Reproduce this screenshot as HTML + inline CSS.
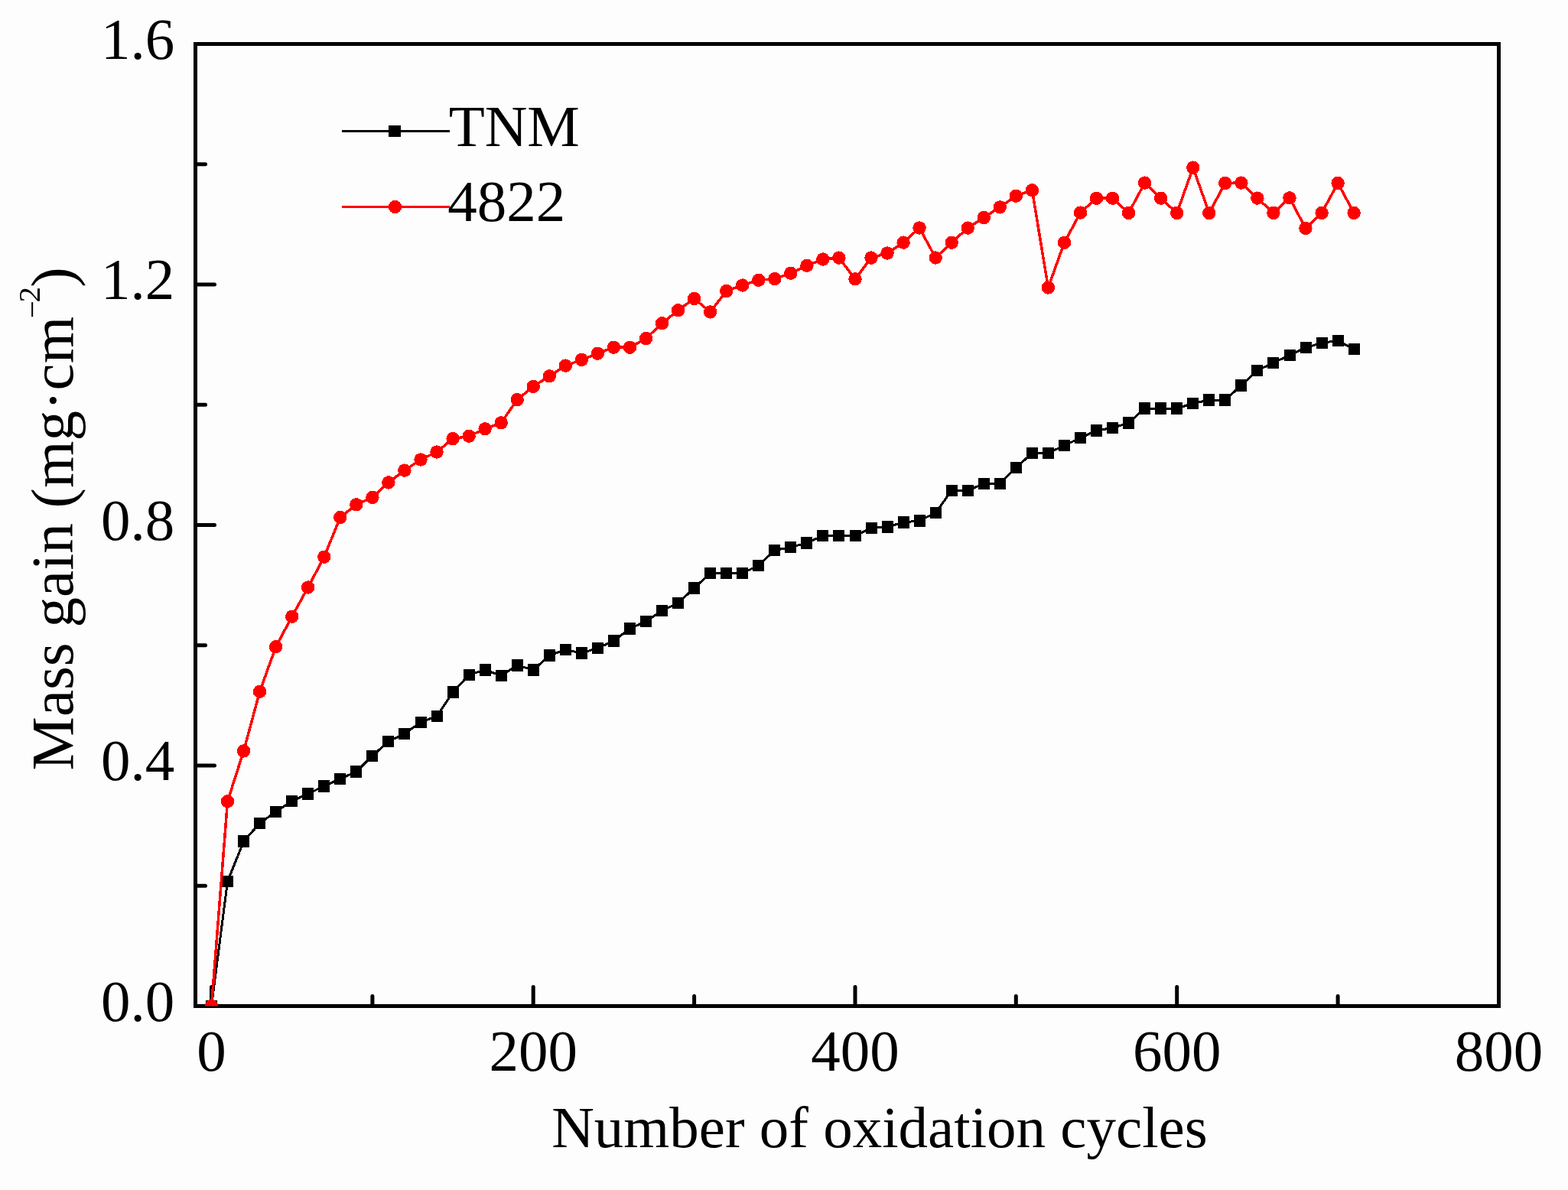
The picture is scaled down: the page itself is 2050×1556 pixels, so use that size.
<!DOCTYPE html>
<html><head><meta charset="utf-8"><title>Mass gain vs oxidation cycles</title>
<style>
html,body{margin:0;padding:0;background:#fdfdfd;}
svg{display:block;}
text{font-family:"Liberation Serif","Times New Roman",serif;fill:#000;}
</style></head><body>
<svg width="2050" height="1556" viewBox="0 0 2050 1556">
<rect x="0" y="0" width="2050" height="1556" fill="#fdfdfd"/>
<defs><clipPath id="pc"><rect x="255.5" y="57.5" width="1704.0" height="1258.0"/></clipPath></defs>
<path d="M255.5 1158.2H268.5 M255.5 1001H280.5 M255.5 843.8H268.5 M255.5 686.5H280.5 M255.5 529.2H268.5 M255.5 372H280.5 M255.5 214.8H268.5 M276.5 1315.5V1290.5 M486.9 1315.5V1302.5 M697.2 1315.5V1290.5 M907.6 1315.5V1302.5 M1118 1315.5V1290.5 M1328.3 1315.5V1302.5 M1538.7 1315.5V1290.5 M1749.1 1315.5V1302.5" stroke="#000" stroke-width="5" stroke-linecap="round" fill="none"/>
<rect x="255.5" y="57.5" width="1704.0" height="1258.0" fill="none" stroke="#000" stroke-width="5"/>
<g font-size="77" text-anchor="end">
<text x="228.3" y="1334.5">0.0</text>
<text x="228.3" y="1020">0.4</text>
<text x="228.3" y="705.5">0.8</text>
<text x="228.3" y="391">1.2</text>
<text x="228.3" y="76.5">1.6</text>
</g>
<g font-size="77" text-anchor="middle">
<text x="276.5" y="1400">0</text>
<text x="697.2" y="1400">200</text>
<text x="1118" y="1400">400</text>
<text x="1538.7" y="1400">600</text>
<text x="1959.5" y="1400">800</text>
</g>
<text x="1150" y="1500" font-size="77" text-anchor="middle">Number of oxidation cycles</text>
<text transform="translate(95 1007.5) rotate(-90)" font-size="79.2">Mass gain (mg&#183;cm<tspan font-size="41" dx="-2.6" dy="-38.8">&#8722;</tspan><tspan font-size="41" dx="-2.4" dy="-4.4">2</tspan><tspan dx="-0.7" dy="43.2">)</tspan></text>
<g clip-path="url(#pc)" shape-rendering="crispEdges">
<polyline points="276.5,1315.5 297.5,1152.5 318.6,1099.9 339.6,1076.5 360.6,1061.4 381.7,1047.4 402.7,1037.9 423.8,1027.9 444.8,1018.4 465.8,1009 486.9,988.4 507.9,969.4 528.9,959.5 550,944.4 571,936.5 592.1,905.1 613.1,882.5 634.1,875.9 655.2,883.5 676.2,869.9 697.2,876.1 718.3,857 739.3,849.5 760.4,854 781.4,847.4 802.4,838 823.5,821.8 844.5,812.5 865.5,798.4 886.6,788.5 907.6,769 928.6,749.4 949.7,749.4 970.7,749.4 991.8,739.4 1012.8,719.5 1033.8,715.5 1054.9,709.9 1075.9,700.4 1096.9,700.4 1118,700.4 1139,690.4 1160.1,689 1181.1,683 1202.1,680.9 1223.2,670.5 1244.2,641.4 1265.2,641.4 1286.3,632.5 1307.3,632.5 1328.3,611.6 1349.4,592.4 1370.4,592.4 1391.5,582.5 1412.5,572.5 1433.5,563 1454.6,559.5 1475.6,553 1496.6,534 1517.7,534 1538.7,534 1559.8,527.5 1580.8,523 1601.8,523 1622.9,503.9 1643.9,484.4 1664.9,474.4 1686,464.4 1707,454.6 1728.1,448.4 1749.1,445.5 1770.1,456.4" fill="none" stroke="#000" stroke-width="3"/>
<path d="M269 1307.8h15v15.5h-15zM290 1144.8h15v15.5h-15zM311.1 1092.2h15v15.5h-15zM332.1 1068.8h15v15.5h-15zM353.1 1053.7h15v15.5h-15zM374.2 1039.7h15v15.5h-15zM395.2 1030.2h15v15.5h-15zM416.3 1020.2h15v15.5h-15zM437.3 1010.6h15v15.5h-15zM458.3 1001.2h15v15.5h-15zM479.4 980.6h15v15.5h-15zM500.4 961.6h15v15.5h-15zM521.4 951.8h15v15.5h-15zM542.5 936.6h15v15.5h-15zM563.5 928.8h15v15.5h-15zM584.6 897.4h15v15.5h-15zM605.6 874.8h15v15.5h-15zM626.6 868.1h15v15.5h-15zM647.7 875.8h15v15.5h-15zM668.7 862.1h15v15.5h-15zM689.7 868.4h15v15.5h-15zM710.8 849.2h15v15.5h-15zM731.8 841.8h15v15.5h-15zM752.9 846.2h15v15.5h-15zM773.9 839.6h15v15.5h-15zM794.9 830.2h15v15.5h-15zM816 814h15v15.5h-15zM837 804.8h15v15.5h-15zM858 790.6h15v15.5h-15zM879.1 780.8h15v15.5h-15zM900.1 761.2h15v15.5h-15zM921.1 741.6h15v15.5h-15zM942.2 741.6h15v15.5h-15zM963.2 741.6h15v15.5h-15zM984.3 731.6h15v15.5h-15zM1005.3 711.8h15v15.5h-15zM1026.3 707.8h15v15.5h-15zM1047.4 702.1h15v15.5h-15zM1068.4 692.6h15v15.5h-15zM1089.4 692.6h15v15.5h-15zM1110.5 692.6h15v15.5h-15zM1131.5 682.6h15v15.5h-15zM1152.6 681.2h15v15.5h-15zM1173.6 675.2h15v15.5h-15zM1194.6 673.1h15v15.5h-15zM1215.7 662.8h15v15.5h-15zM1236.7 633.6h15v15.5h-15zM1257.7 633.6h15v15.5h-15zM1278.8 624.8h15v15.5h-15zM1299.8 624.8h15v15.5h-15zM1320.8 603.9h15v15.5h-15zM1341.9 584.6h15v15.5h-15zM1362.9 584.6h15v15.5h-15zM1384 574.8h15v15.5h-15zM1405 564.8h15v15.5h-15zM1426 555.2h15v15.5h-15zM1447.1 551.8h15v15.5h-15zM1468.1 545.2h15v15.5h-15zM1489.1 526.2h15v15.5h-15zM1510.2 526.2h15v15.5h-15zM1531.2 526.2h15v15.5h-15zM1552.3 519.8h15v15.5h-15zM1573.3 515.2h15v15.5h-15zM1594.3 515.2h15v15.5h-15zM1615.4 496.1h15v15.5h-15zM1636.4 476.6h15v15.5h-15zM1657.4 466.6h15v15.5h-15zM1678.5 456.6h15v15.5h-15zM1699.5 446.9h15v15.5h-15zM1720.6 440.6h15v15.5h-15zM1741.6 437.8h15v15.5h-15zM1762.6 448.6h15v15.5h-15z" fill="#000"/>
<polyline points="276.5,1315.5 297.5,1047.8 318.6,981.9 339.6,904.3 360.6,845.8 381.7,806.2 402.7,768 423.8,728.2 444.8,676.5 465.8,659.8 486.9,650.4 507.9,630.9 528.9,615.1 550,601 571,591 592.1,573.7 613.1,570.2 634.1,560.8 655.2,552.8 676.2,522.6 697.2,505.4 718.3,491.8 739.3,478.1 760.4,470.4 781.4,462.2 802.4,454.2 823.5,454.2 844.5,442.6 865.5,422.8 886.6,405.7 907.6,390.4 928.6,407.9 949.7,380.5 970.7,373 991.8,366.3 1012.8,364.7 1033.8,357.2 1054.9,347.2 1075.9,339 1096.9,337.1 1118,364.9 1139,337.1 1160.1,331 1181.1,317.1 1202.1,298 1223.2,337 1244.2,317.2 1265.2,298.1 1286.3,284.5 1307.3,270.9 1328.3,256.2 1349.4,248.8 1370.4,376 1391.5,317.2 1412.5,278.1 1433.5,259.2 1454.6,259.2 1475.6,278.5 1496.6,239.1 1517.7,259.2 1538.7,278.5 1559.8,219.1 1580.8,278.5 1601.8,239.4 1622.9,239.1 1643.9,259.1 1664.9,278.4 1686,258.9 1707,298.5 1728.1,278.4 1749.1,239.4 1770.1,278.4" fill="none" stroke="#f00" stroke-width="3.5"/>
<circle cx="276.5" cy="1315.5" r="8.7" fill="#f00"/><circle cx="297.5" cy="1047.8" r="8.7" fill="#f00"/><circle cx="318.6" cy="981.9" r="8.7" fill="#f00"/><circle cx="339.6" cy="904.3" r="8.7" fill="#f00"/><circle cx="360.6" cy="845.8" r="8.7" fill="#f00"/><circle cx="381.7" cy="806.2" r="8.7" fill="#f00"/><circle cx="402.7" cy="768" r="8.7" fill="#f00"/><circle cx="423.8" cy="728.2" r="8.7" fill="#f00"/><circle cx="444.8" cy="676.5" r="8.7" fill="#f00"/><circle cx="465.8" cy="659.8" r="8.7" fill="#f00"/><circle cx="486.9" cy="650.4" r="8.7" fill="#f00"/><circle cx="507.9" cy="630.9" r="8.7" fill="#f00"/><circle cx="528.9" cy="615.1" r="8.7" fill="#f00"/><circle cx="550" cy="601" r="8.7" fill="#f00"/><circle cx="571" cy="591" r="8.7" fill="#f00"/><circle cx="592.1" cy="573.7" r="8.7" fill="#f00"/><circle cx="613.1" cy="570.2" r="8.7" fill="#f00"/><circle cx="634.1" cy="560.8" r="8.7" fill="#f00"/><circle cx="655.2" cy="552.8" r="8.7" fill="#f00"/><circle cx="676.2" cy="522.6" r="8.7" fill="#f00"/><circle cx="697.2" cy="505.4" r="8.7" fill="#f00"/><circle cx="718.3" cy="491.8" r="8.7" fill="#f00"/><circle cx="739.3" cy="478.1" r="8.7" fill="#f00"/><circle cx="760.4" cy="470.4" r="8.7" fill="#f00"/><circle cx="781.4" cy="462.2" r="8.7" fill="#f00"/><circle cx="802.4" cy="454.2" r="8.7" fill="#f00"/><circle cx="823.5" cy="454.2" r="8.7" fill="#f00"/><circle cx="844.5" cy="442.6" r="8.7" fill="#f00"/><circle cx="865.5" cy="422.8" r="8.7" fill="#f00"/><circle cx="886.6" cy="405.7" r="8.7" fill="#f00"/><circle cx="907.6" cy="390.4" r="8.7" fill="#f00"/><circle cx="928.6" cy="407.9" r="8.7" fill="#f00"/><circle cx="949.7" cy="380.5" r="8.7" fill="#f00"/><circle cx="970.7" cy="373" r="8.7" fill="#f00"/><circle cx="991.8" cy="366.3" r="8.7" fill="#f00"/><circle cx="1012.8" cy="364.7" r="8.7" fill="#f00"/><circle cx="1033.8" cy="357.2" r="8.7" fill="#f00"/><circle cx="1054.9" cy="347.2" r="8.7" fill="#f00"/><circle cx="1075.9" cy="339" r="8.7" fill="#f00"/><circle cx="1096.9" cy="337.1" r="8.7" fill="#f00"/><circle cx="1118" cy="364.9" r="8.7" fill="#f00"/><circle cx="1139" cy="337.1" r="8.7" fill="#f00"/><circle cx="1160.1" cy="331" r="8.7" fill="#f00"/><circle cx="1181.1" cy="317.1" r="8.7" fill="#f00"/><circle cx="1202.1" cy="298" r="8.7" fill="#f00"/><circle cx="1223.2" cy="337" r="8.7" fill="#f00"/><circle cx="1244.2" cy="317.2" r="8.7" fill="#f00"/><circle cx="1265.2" cy="298.1" r="8.7" fill="#f00"/><circle cx="1286.3" cy="284.5" r="8.7" fill="#f00"/><circle cx="1307.3" cy="270.9" r="8.7" fill="#f00"/><circle cx="1328.3" cy="256.2" r="8.7" fill="#f00"/><circle cx="1349.4" cy="248.8" r="8.7" fill="#f00"/><circle cx="1370.4" cy="376" r="8.7" fill="#f00"/><circle cx="1391.5" cy="317.2" r="8.7" fill="#f00"/><circle cx="1412.5" cy="278.1" r="8.7" fill="#f00"/><circle cx="1433.5" cy="259.2" r="8.7" fill="#f00"/><circle cx="1454.6" cy="259.2" r="8.7" fill="#f00"/><circle cx="1475.6" cy="278.5" r="8.7" fill="#f00"/><circle cx="1496.6" cy="239.1" r="8.7" fill="#f00"/><circle cx="1517.7" cy="259.2" r="8.7" fill="#f00"/><circle cx="1538.7" cy="278.5" r="8.7" fill="#f00"/><circle cx="1559.8" cy="219.1" r="8.7" fill="#f00"/><circle cx="1580.8" cy="278.5" r="8.7" fill="#f00"/><circle cx="1601.8" cy="239.4" r="8.7" fill="#f00"/><circle cx="1622.9" cy="239.1" r="8.7" fill="#f00"/><circle cx="1643.9" cy="259.1" r="8.7" fill="#f00"/><circle cx="1664.9" cy="278.4" r="8.7" fill="#f00"/><circle cx="1686" cy="258.9" r="8.7" fill="#f00"/><circle cx="1707" cy="298.5" r="8.7" fill="#f00"/><circle cx="1728.1" cy="278.4" r="8.7" fill="#f00"/><circle cx="1749.1" cy="239.4" r="8.7" fill="#f00"/><circle cx="1770.1" cy="278.4" r="8.7" fill="#f00"/>
</g>
<g shape-rendering="crispEdges">
<path d="M447 171.5H588" stroke="#000" stroke-width="3"/>
<rect x="508" y="164" width="16" height="15" fill="#000"/>
<path d="M447 270.5H588" stroke="#f00" stroke-width="3"/>
<circle cx="516.5" cy="270.5" r="8.7" fill="#f00"/>
</g>
<text x="586.7" y="191.2" font-size="77">TNM</text>
<text x="585.2" y="289.3" font-size="77">4822</text>
</svg>
</body></html>
